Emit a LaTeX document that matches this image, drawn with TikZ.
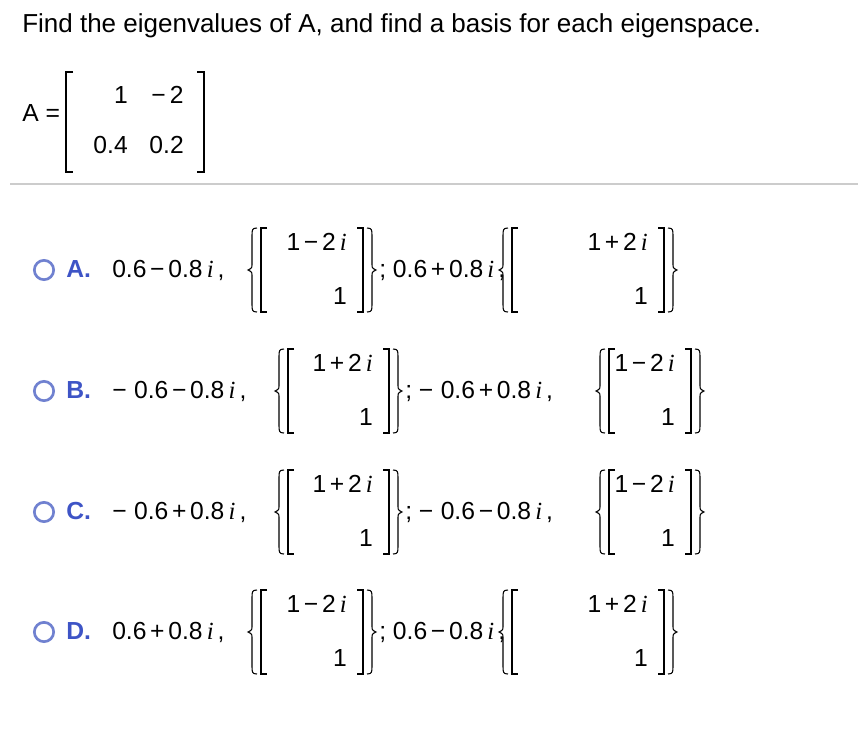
\documentclass[tikz,border=0pt]{standalone}
\usepackage{fontspec}
\setmainfont{Liberation Sans}
\newfontfamily\serifit{Liberation Serif}
\definecolor{optblue}{HTML}{3E54C6}
\definecolor{ringblue}{HTML}{7081D0}
\newcommand\ii{\,{\serifit\itshape i}}
\newcommand\mi{\hspace{0.15em}\textminus\hspace{0.15em}}
\newcommand\pl{\hspace{0.15em}+\hspace{0.15em}}
% \vecset{name}{xbrace}{xright}{ycenter}{top entry}
\newcommand\vecset[5]{%
  \draw[thick] (#2+9,#4-42) .. controls (#2+4,#4-42) and (#2+4,#4-40) .. (#2+4,#4-34) -- (#2+4,#4-6) .. controls (#2+4,#4-2) .. (#2,#4) .. controls (#2+4,#4+2) .. (#2+4,#4+6) -- (#2+4,#4+34) .. controls (#2+4,#4+40) and (#2+4,#4+42) .. (#2+9,#4+42);
  \draw[thick] (#2+19,#4-42) -- (#2+13,#4-42) -- (#2+13,#4+42) -- (#2+19,#4+42);
  \draw[thick] (#3+2,#4-42) -- (#3+8,#4-42) -- (#3+8,#4+42) -- (#3+2,#4+42);
  \draw[thick] (#3+12,#4-42) .. controls (#3+17,#4-42) and (#3+17,#4-40) .. (#3+17,#4-34) -- (#3+17,#4-6) .. controls (#3+17,#4-2) .. (#3+21,#4) .. controls (#3+17,#4+2) .. (#3+17,#4+6) -- (#3+17,#4+34) .. controls (#3+17,#4+40) and (#3+17,#4+42) .. (#3+12,#4+42);
  \node[txt,anchor=base east] (#1t) at (#3-8,#4-20) {#5};
  \node[txt,anchor=base east] (#1b) at (#3-8,#4+34) {1};
}
\begin{document}
\begin{tikzpicture}[x=0.75pt,y=-0.75pt,
  txt/.style={inner sep=0pt,font=\fontsize{18.5}{22}\selectfont},
  ring/.style={circle,draw=ringblue,line width=2pt,minimum size=14.5pt,inner sep=0pt},
  lbl/.style={inner sep=0pt,font=\fontsize{18.5}{22}\selectfont\bfseries,text=optblue,anchor=base west}]
\useasboundingbox (0,0) rectangle (858,743);
\node[txt,anchor=base west,font=\fontsize{19.5}{23}\selectfont] (title) at (22,32) {Find the eigenvalues of A, and find a basis for each eigenspace.};
\node[txt,anchor=base west] (Aeq) at (22,121) {A =};
\draw[thick] (73,72) -- (66,72) -- (66,172) -- (73,172);
\draw[thick] (197,72) -- (204,72) -- (204,172) -- (197,172);
\node[txt,anchor=base east] (a11) at (128,103) {1};
\node[txt,anchor=base east] (a12) at (184,103) {\textminus\,2};
\node[txt,anchor=base east] (a21) at (128,153) {0.4};
\node[txt,anchor=base east] (a22) at (184,153) {0.2};
\draw[gray!40,line width=1pt] (10,184) -- (858,184);
% A
\node[ring] (rA) at (44,270) {};
\node[lbl] (lA) at (66,277) {A.};
\node[txt,anchor=base west] (eA1) at (112,277) {0.6\mi0.8\ii\,,};
\vecset{vA1}{248}{355}{270}{1\mi2\ii}
\node[txt,anchor=base west] (eA2) at (379,277) {; 0.6\pl0.8\ii\,,};
\vecset{vA2}{499}{656}{270}{1\pl2\ii}
% B
\node[ring] (rB) at (44,391) {};
\node[lbl] (lB) at (66,398) {B.};
\node[txt,anchor=base west] (eB1) at (112,398) {\textminus\hspace{0.3em}0.6\mi0.8\ii\,,};
\vecset{vB1}{275}{381}{391}{1\pl2\ii}
\node[txt,anchor=base west] (eB2) at (405,398) {; \textminus\hspace{0.3em}0.6\pl0.8\ii\,,};
\vecset{vB2}{596}{683}{391}{1\mi2\ii}
% C
\node[ring] (rC) at (44,512) {};
\node[lbl] (lC) at (66,519) {C.};
\node[txt,anchor=base west] (eC1) at (112,519) {\textminus\hspace{0.3em}0.6\pl0.8\ii\,,};
\vecset{vC1}{275}{381}{512}{1\pl2\ii}
\node[txt,anchor=base west] (eC2) at (405,519) {; \textminus\hspace{0.3em}0.6\mi0.8\ii\,,};
\vecset{vC2}{596}{683}{512}{1\mi2\ii}
% D
\node[ring] (rD) at (44,632) {};
\node[lbl] (lD) at (66,639) {D.};
\node[txt,anchor=base west] (eD1) at (112,639) {0.6\pl0.8\ii\,,};
\vecset{vD1}{248}{355}{632}{1\mi2\ii}
\node[txt,anchor=base west] (eD2) at (379,639) {; 0.6\mi0.8\ii\,,};
\vecset{vD2}{499}{656}{632}{1\pl2\ii}
\end{tikzpicture}
\end{document}
